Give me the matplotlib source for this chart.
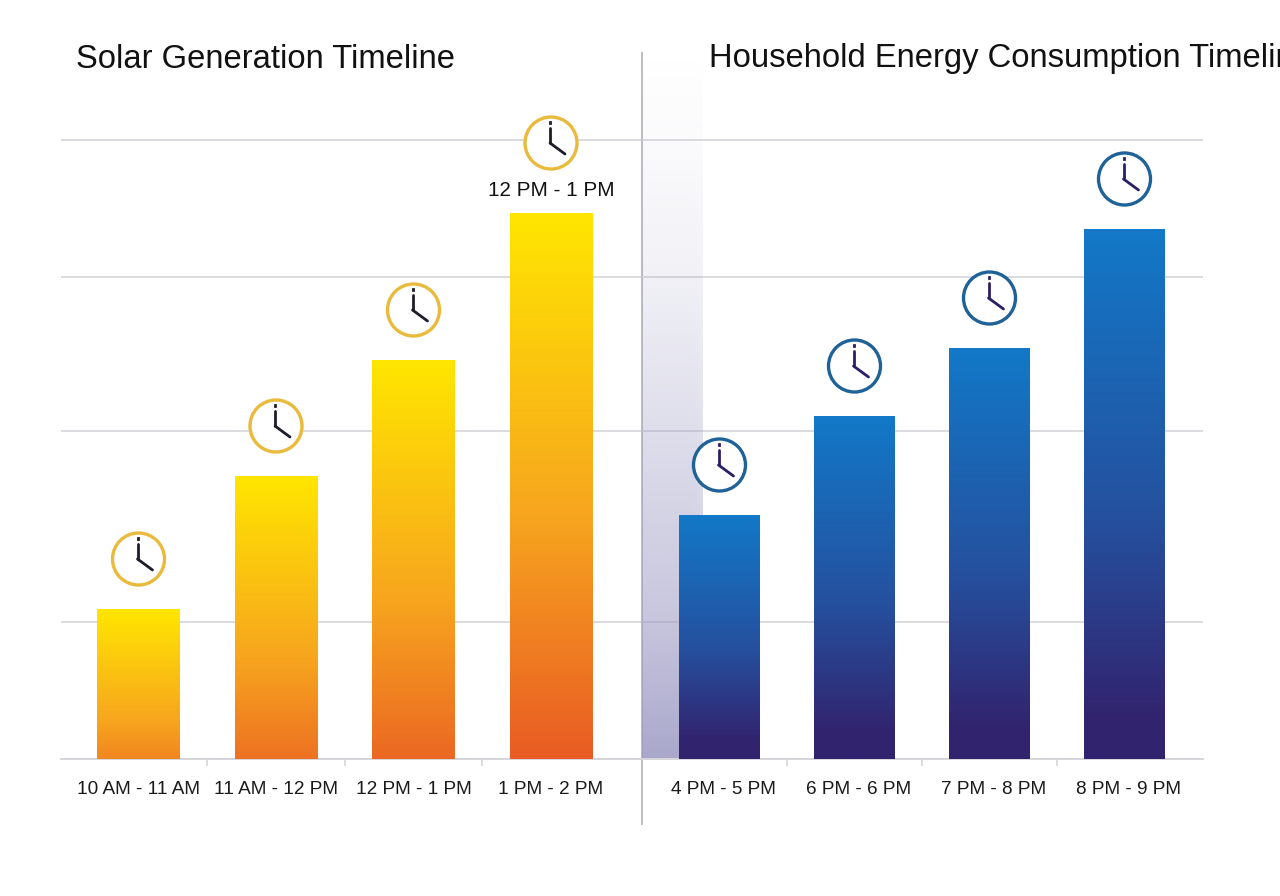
import numpy as np
import matplotlib
matplotlib.use("Agg")
import matplotlib.pyplot as plt
from matplotlib.colors import LinearSegmentedColormap
from matplotlib.patches import Ellipse
from matplotlib.transforms import ScaledTranslation

plt.rcParams['font.family'] = ['Liberation Sans', 'DejaVu Sans']

solar_slots = ["10 AM - 11 AM", "11 AM - 12 PM", "12 PM - 1 PM", "1 PM - 2 PM"]
solar_values = [150, 283, 399, 546]
solar_bottom = [0.74, 0.86, 0.92, 1.0]
home_slots = ["4 PM - 5 PM", "6 PM - 6 PM", "7 PM - 8 PM", "8 PM - 9 PM"]
home_values = [244, 343, 411, 530]
home_bottom = [1.0, 1.0, 1.0, 1.0]
grid_levels = [137, 328, 482, 619]
solar_title = "Solar Generation Timeline"
home_title = "Household Energy Consumption Timeline"
peak_label = "12 PM - 1 PM"

W, H = 1280, 896
fig = plt.figure(figsize=(12.8, 8.96), dpi=100, facecolor="white")
BASE = 759
TOP = 53
GRID = "#D6D6DA"


def make_axes(x0, x1, first, step):
    ax = fig.add_axes([x0 / W, 1 - BASE / H, (x1 - x0) / W, (BASE - TOP) / H])
    ax.set_xlim((x0 - first) / step, (x1 - first) / step)
    ax.set_ylim(0, BASE - TOP)
    ax.patch.set_alpha(0)
    for s in ["top", "left", "right"]:
        ax.spines[s].set_visible(False)
    ax.spines["bottom"].set_color(GRID)
    ax.spines["bottom"].set_linewidth(1.4)
    ax.set_yticks([])
    return ax


def draw_panel(ax, slots, values, bottoms, step, width_px, stops, ring, hand, label_shift=0, labelled=None):
    idx = np.arange(len(values))
    for g in grid_levels:
        ax.axhline(g, color=GRID, lw=1.2, zorder=1)
    ax.set_xticks(idx)
    ax.set_xticklabels(slots, fontsize=13.7, color="#1a1a1a")
    ax.tick_params(axis="x", length=0, pad=16)
    for lab in ax.get_xticklabels():
        lab.set_transform(lab.get_transform() + ScaledTranslation(label_shift / 100, 0, fig.dpi_scale_trans))
    ax.set_xticks(idx[:-1] + 0.5, minor=True)
    ax.tick_params(axis="x", which="minor", length=5, color=GRID, width=1.2)
    bars = ax.bar(idx, values, width=width_px / step, color="none", zorder=3)
    cmap = LinearSegmentedColormap.from_list("g", stops)
    for bar, v, frac in zip(bars, values, bottoms):
        grad = np.linspace(0, frac, 256).reshape(-1, 1)
        im = ax.imshow(grad, cmap=cmap, vmin=0, vmax=1, aspect="auto", zorder=3,
                       extent=(bar.get_x(), bar.get_x() + bar.get_width(), 0, v),
                       origin="upper")
        im.set_clip_path(bar)
    ax.set_ylim(0, BASE - TOP)
    r = 26
    for i, v in zip(idx, values):
        lift = 70 if labelled == i else 50
        cy = v + lift
        ax.add_patch(Ellipse((i, cy), 2 * r / step, 2 * r, fc="white", ec=ring, lw=2.4, zorder=4))
        hx = i - 1 / step
        ax.plot([hx, hx], [cy, cy + 15], color=hand, lw=2.0, zorder=5, solid_capstyle="round")
        ax.plot([hx, hx], [cy + 20, cy + 21], color=hand, lw=2.0, zorder=5)
        ax.plot([hx, i + 14 / step], [cy, cy - 11], color=hand, lw=2.0, zorder=5,
                solid_capstyle="round")
        if labelled == i:
            ax.text(i, v + 22, peak_label, ha="center", va="center", fontsize=14.9,
                    color="#111111", zorder=5)


ax_l = make_axes(61, 642, 138.5, 137.5)
ax_r = make_axes(642, 1203, 719.5, 135)
ax_r.set_zorder(2)

# soft shaded band beside the divider
band = np.zeros((300, 60, 4))
band[..., :3] = matplotlib.colors.to_rgb("#9A98C2")
rows = np.linspace(0, 1, 300)
alpha = np.interp(rows, [0, 0.12, 0.3, 0.53, 0.8, 1], [0.0, 0.04, 0.13, 0.32, 0.55, 0.85])
fade = np.interp(np.linspace(0, 1, 60), [0, 0.85, 1], [1, 1, 0.9])
band[..., 3] = alpha[:, None] * fade[None, :]
x0 = ax_r.get_xlim()[0]
ax_r.imshow(band, aspect="auto", origin="upper", zorder=2,
            extent=(x0, x0 + 61 / 135, 0, BASE - TOP))

draw_panel(ax_l, solar_slots, solar_values, solar_bottom, 137.5, 83,
           [(0, "#FFE600"), (0.55, "#F7A61E"), (1, "#E95B24")],
           "#E9BA3C", "#1d1d2b", labelled=3)
draw_panel(ax_r, home_slots, home_values, home_bottom, 135, 81,
           [(0, "#1279C8"), (0.55, "#25509E"), (0.92, "#32246F"), (1, "#32236F")],
           "#1F6298", "#2A1F66", label_shift=4)

fig.add_artist(plt.Line2D([642 / W, 642 / W], [1 - 53 / H, 1 - 824 / H], color="#BDBDC0", lw=1.4))

fig.text(76 / W, 1 - 59 / H, solar_title, fontsize=23.6, va="center", ha="left", color="#111111")
fig.text(709 / W, 1 - 59 / H, home_title, fontsize=23.6, va="center", ha="left", color="#111111")

fig.savefig("out.png", dpi=100)
